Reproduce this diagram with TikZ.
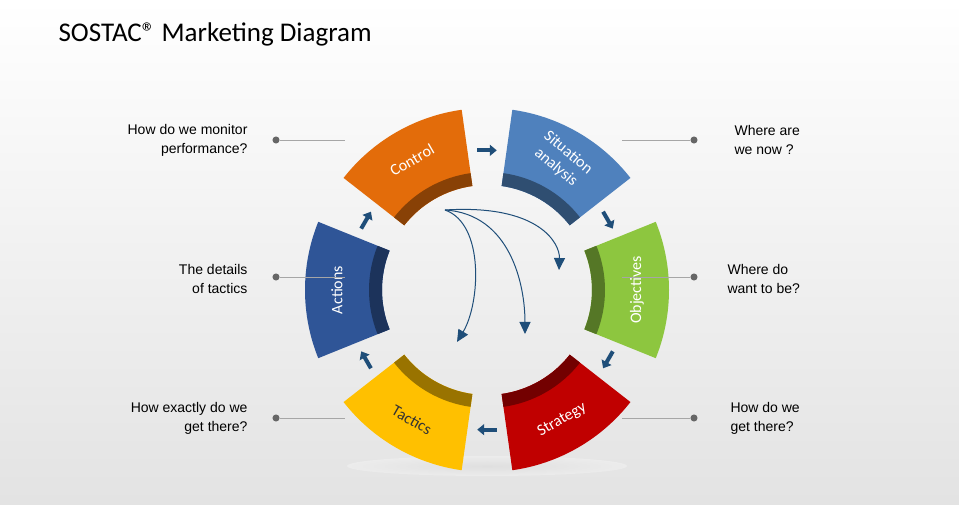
\documentclass[tikz,border=0pt]{standalone}
\usepackage{fontspec}
\setmainfont{Carlito}
\newfontfamily\lab{Liberation Sans}
\usetikzlibrary{arrows.meta}
\definecolor{cCon}{HTML}{E36C0A}
\definecolor{cSit}{HTML}{4F81BD}
\definecolor{cObj}{HTML}{8DC63F}
\definecolor{cStr}{HTML}{C00000}
\definecolor{cTac}{HTML}{FFC000}
\definecolor{cAct}{HTML}{2F5597}
\definecolor{arr}{HTML}{1F4E79}
\tikzset{
 lbl/.style={font=\lab\fontsize{14}{19}\selectfont, text=black},
 seg/.style={font=\fontsize{16}{19}\selectfont, text=white, align=center},
 gap/.style={-{Triangle[length=7pt,width=11pt]}, line width=4pt, draw=arr},
 curv/.style={-{Triangle[length=12pt,width=11pt]}, line width=1pt, draw=arr},
 side/.style={draw=gray!70, line width=0.8pt},
 dotn/.style={circle, fill=gray!80!black, inner sep=2.5pt},
}
\begin{document}
\begin{tikzpicture}[x=1pt,y=1pt]
\shade[top color=white, bottom color=gray!22] (0,0) rectangle (959,504);
\useasboundingbox (0,0) rectangle (959,504);
\shade[inner color=gray!25, outer color=gray!15] (487,38) ellipse (140 and 10);
\node[anchor=west, font=\fontsize{27}{30}\selectfont] (title) at (55,470) {SOSTAC® Marketing Diagram};
\begin{scope}[shift={(487,214)}]
 \foreach \a/\c/\n in {120/cCon/con,60/cSit/sit,0/cObj/obj,-60/cStr/str,240/cTac/tac,180/cAct/act}{
  \fill[\c] (\a-22:182) arc[start angle=\a-22,end angle=\a+22,radius=182] -- (\a+22:105) arc[start angle=\a+22,end angle=\a-22,radius=105] -- cycle;
  \fill[\c!60!black] (\a-22:118) arc[start angle=\a-22,end angle=\a+22,radius=118] -- (\a+22:105) arc[start angle=\a+22,end angle=\a-22,radius=105] -- cycle;
  \coordinate (\n) at (\a:150);
 }
 \node[seg, rotate=30] at (con) {Control};
 \node[seg, rotate=-40] at (sit) {Situation\\analysis};
 \node[seg, rotate=90] at (obj) {Objectives};
 \node[seg, rotate=30] at (str) {Strategy};
 \node[seg, rotate=-30, text=black!80] at (tac) {Tactics};
 \node[seg, rotate=90] at (act) {Actions};
 \foreach \a in {90,30,-30,-90,210,150}{
  \draw[gap] (\a+4:140) -- (\a-4:140);
 }
 \coordinate (src) at (-42,80);
 \coordinate (t1) at (72,20);
 \coordinate (t2) at (38,-44);
 \coordinate (t3) at (-30,-52);
\end{scope}
\draw[curv] (src) .. controls (540,300) and (560,260) .. (t1);
\draw[curv] (src) .. controls (510,290) and (525,220) .. (t2);
\draw[curv] (src) .. controls (485,280) and (480,200) .. (t3);
\foreach \y/\n in {364/l1,227/l2,86/l3}{
 \node[dotn] (d\n) at (276,\y) {}; \coordinate (e\n) at (345,\y);
 \draw[side] (d\n) -- (e\n);
}
\foreach \y/\n in {364/r1,227/r2,86/r3}{
 \node[dotn] (d\n) at (694,\y) {}; \coordinate (e\n) at (622,\y);
 \draw[side] (d\n) -- (e\n);
}
\node[lbl, anchor=east, align=right] (tl1) at (251,364) {How do we monitor\\performance?};
\node[lbl, anchor=east, align=right] (tl2) at (251,225) {The details\\of tactics};
\node[lbl, anchor=east, align=right] (tl3) at (251,86) {How exactly do we\\get there?};
\node[lbl, anchor=west, align=left] (tr1) at (731,364) {Where are\\we now ?};
\node[lbl, anchor=west, align=left] (tr2) at (724,225) {Where do\\want to be?};
\node[lbl, anchor=west, align=left] (tr3) at (727,86) {How do we\\get there?};
\end{tikzpicture}
\end{document}
